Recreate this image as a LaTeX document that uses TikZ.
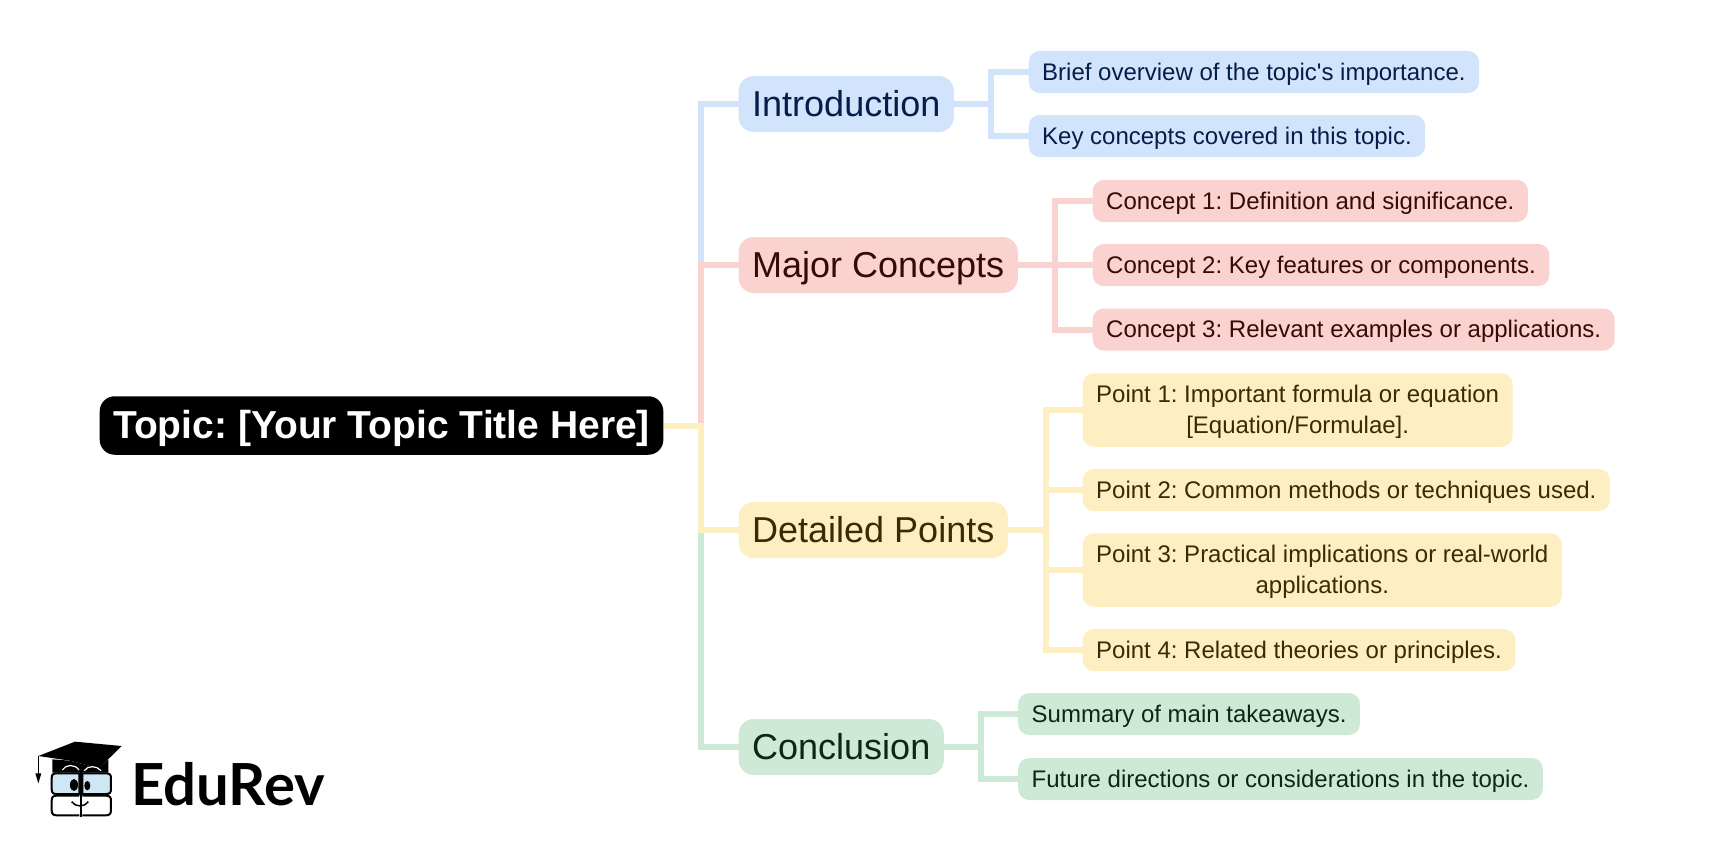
\documentclass[tikz,border=0pt]{standalone}
\usepackage{fontspec}
\setmainfont{Liberation Sans}
\newfontfamily\logofont{Lato}
\usetikzlibrary{positioning}

\definecolor{blueFill}{HTML}{D2E3FC}
\definecolor{redFill}{HTML}{FAD2CF}
\definecolor{yellowFill}{HTML}{FEEFC3}
\definecolor{greenFill}{HTML}{CEEAD6}
\definecolor{blueText}{HTML}{041E49}
\definecolor{redText}{HTML}{370B05}
\definecolor{yellowText}{HTML}{3A2A05}
\definecolor{greenText}{HTML}{0A2912}
\definecolor{logoBack}{HTML}{FEFEFE}
\definecolor{logoGlass}{HTML}{CFE6F5}

\tikzset{
    rootbox/.style={fill=black,text=white,rounded corners=15pt,inner xsep=13.5pt,inner ysep=0pt,
        minimum height=58.5pt,anchor=west,font=\fontsize{39}{44}\selectfont\bfseries\frenchspacing,
        text height=32pt,text depth=6pt},
    mainbox/.style={rounded corners=15pt,inner xsep=13.5pt,inner ysep=0pt,minimum height=56pt,
        anchor=west,font=\fontsize{36}{40}\selectfont\frenchspacing,text height=30pt,text depth=5pt},
    leafbox/.style={rounded corners=11pt,inner xsep=13.5pt,inner ysep=0pt,anchor=west,
        font=\fontsize{24}{31}\selectfont\frenchspacing},
    subbox/.style={leafbox,minimum height=42pt,text height=19.5pt,text depth=3.5pt},
    tallbox/.style={leafbox,minimum height=73.5pt,align=center,text height=51.5pt,text depth=4pt},
    link/.style={line width=6pt,miter limit=10},
    bluebox/.style={fill=blueFill,text=blueText},
    redbox/.style={fill=redFill,text=redText},
    yellowbox/.style={fill=yellowFill,text=yellowText},
    greenbox/.style={fill=greenFill,text=greenText},
}

\begin{document}
\begin{tikzpicture}[x=1pt,y=-1pt]
    \useasboundingbox (0,0) rectangle (1715,851);

    % root and the four branches
    \node[rootbox] (root) at (99.5,425.5) {Topic: [Your Topic Title Here]};
    \node[mainbox,bluebox] (intro) at (738.5,104) {Introduction};
    \node[mainbox,redbox] (major) at (738.5,265) {Major Concepts};
    \node[mainbox,yellowbox] (detail) at (738.5,530) {Detailed Points};
    \node[mainbox,greenbox] (concl) at (738.5,747) {Conclusion};

    % leaves
    \node[subbox,bluebox] (brief) at (1028.5,72) {Brief overview of the topic\textquotesingle s importance.};
    \node[subbox,bluebox] (key) at (1028.5,136) {Key concepts covered in this topic.};

    \node[subbox,redbox] (conA) at (1092.5,201) {Concept 1: Definition and significance.};
    \node[subbox,redbox] (conB) at (1092.5,265) {Concept 2: Key features or components.};
    \node[subbox,redbox] (conC) at (1092.5,329.5) {Concept 3: Relevant examples or applications.};

    \node[tallbox,yellowbox] (ptA) at (1082.5,410) {Point 1: Important formula or equation\\{}[Equation/Formulae].};
    \node[subbox,yellowbox] (ptB) at (1082.5,490) {Point 2: Common methods or techniques used.};
    \node[tallbox,yellowbox] (ptC) at (1082.5,570) {Point 3: Practical implications or real-world\\applications.};
    \node[subbox,yellowbox] (ptD) at (1082.5,650) {Point 4: Related theories or principles.};

    \node[subbox,greenbox] (sumry) at (1018,714) {Summary of main takeaways.};
    \node[subbox,greenbox] (futr) at (1018,779) {Future directions or considerations in the topic.};

    % bus lines
    \coordinate (spine) at (701,0);
    \coordinate (busBlue) at (991,0);
    \coordinate (busRed) at (1055,0);
    \coordinate (busYellow) at (1046,0);
    \coordinate (busGreen) at (981,0);

    % root to branches, yellow goes last
    \foreach \kid/\col in {intro/blueFill,major/redFill,concl/greenFill,detail/yellowFill}{
        \draw[link,\col] (root.east) -- (spine |- root.east) -- (spine |- \kid.west) -- (\kid.west);
    }

    % branches to leaves
    \foreach \kid in {brief,key}{
        \draw[link,blueFill] (intro.east) -- (busBlue |- intro.east) -- (busBlue |- \kid.west) -- (\kid.west);
    }
    \foreach \kid in {conA,conB,conC}{
        \draw[link,redFill] (major.east) -- (busRed |- major.east) -- (busRed |- \kid.west) -- (\kid.west);
    }
    \foreach \kid in {ptA,ptB,ptC,ptD}{
        \draw[link,yellowFill] (detail.east) -- (busYellow |- detail.east) -- (busYellow |- \kid.west) -- (\kid.west);
    }
    \foreach \kid in {sumry,futr}{
        \draw[link,greenFill] (concl.east) -- (busGreen |- concl.east) -- (busGreen |- \kid.west) -- (\kid.west);
    }

    % logo
    \fill[logoBack] (10,720) rectangle (350,835);
    \node[anchor=base west,inner sep=0pt,font=\logofont\fontsize{58}{60}\selectfont\bfseries] (brand) at (131,805) {EduRev};
    \begin{scope}[shift={(25,730)},x=0.3333pt,y=-0.3333pt]
        % cap
        \fill[black] (40,78) -- (150,35) -- (290,48) -- (222,115) -- (135,92) -- cycle;
        \fill[black] (82,88) -- (82,128) -- (250,128) -- (250,88) -- (222,115) -- (135,92) -- cycle;
        \draw[white,line width=1.2pt] (112,120) .. controls (122,102) and (150,102) .. (162,120);
        \draw[white,line width=1.2pt] (178,122) .. controls (188,106) and (215,106) .. (228,122);
        \draw[black,line width=1.5pt] (40,78) -- (40,132);
        \fill[black] (31,130) -- (49,130) -- (40,160) -- cycle;
        % glasses
        \draw[black,line width=2pt,fill=logoGlass] (163,130) -- (95,130) .. controls (83,130) and (80,135) .. (80,145)
            -- (80,175) .. controls (80,188) and (83,192) .. (95,192) -- (163,192) -- cycle;
        \draw[black,line width=2pt,fill=logoGlass] (172,130) -- (243,130) .. controls (255,130) and (258,135) .. (258,145)
            -- (258,175) .. controls (258,188) and (255,192) .. (243,192) -- (172,192) -- cycle;
        % face
        \draw[black,line width=2pt] (163,197) -- (95,197) .. controls (83,197) and (80,202) .. (80,214)
            -- (80,240) .. controls (80,252) and (85,256) .. (95,256) -- (163,256);
        \draw[black,line width=2pt] (172,197) -- (243,197) .. controls (255,197) and (258,202) .. (258,214)
            -- (258,240) .. controls (258,252) and (253,256) .. (243,256) -- (172,256);
        \draw[black,line width=2pt] (168,125) -- (168,262);
        \fill[black] (147,165) ellipse [x radius=12,y radius=18];
        \fill[black] (187,167) ellipse [x radius=9,y radius=14];
        \draw[black,line width=1.5pt] (140,215) .. controls (150,232) and (180,232) .. (190,215);
    \end{scope}
\end{tikzpicture}
\end{document}
